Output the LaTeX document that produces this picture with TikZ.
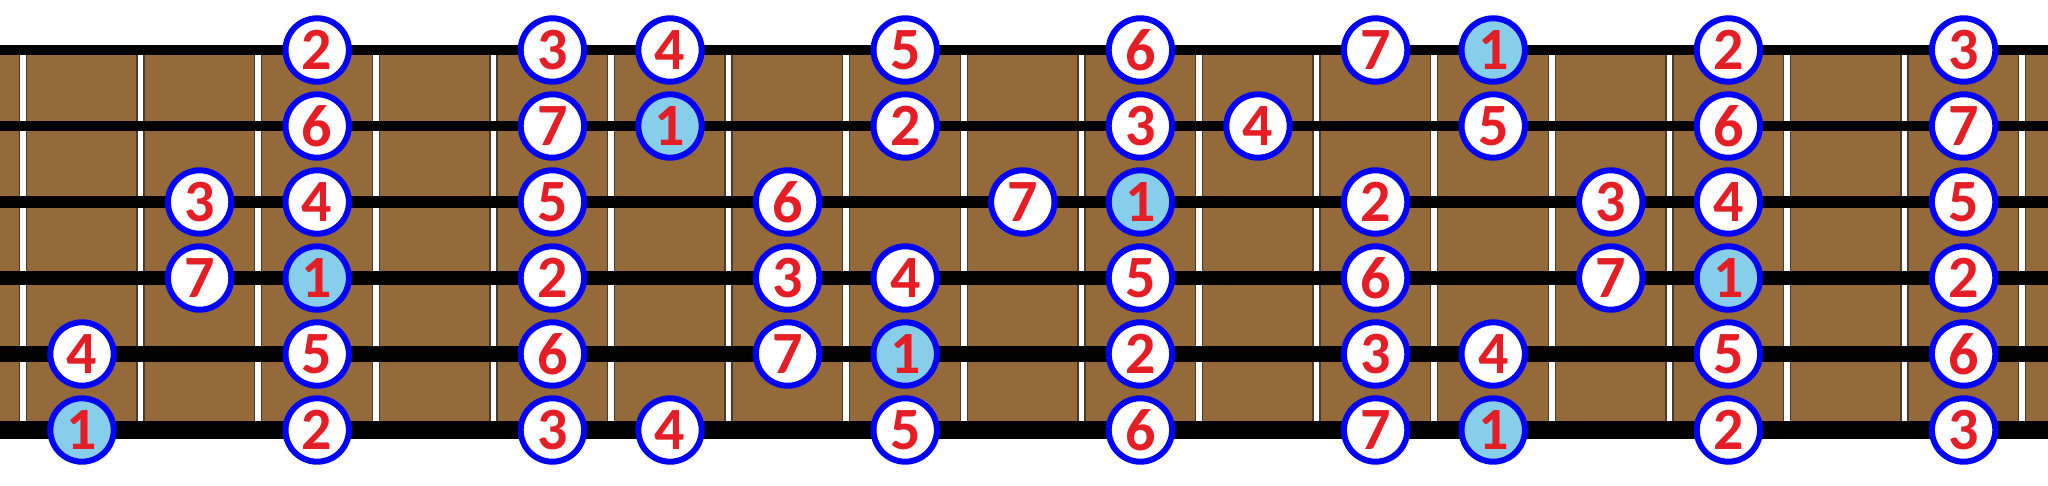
\documentclass[tikz,border=0pt]{standalone}
\usepackage{fontspec}
\setmainfont{Carlito}[BoldFont={Carlito Bold}]
\definecolor{wood}{RGB}{149,106,59}
\definecolor{noteblue}{RGB}{0,0,255}
\definecolor{rootfill}{RGB}{135,206,235}
\definecolor{notered}{RGB}{228,30,36}
\definecolor{fretedge}{RGB}{70,60,50}
\tikzset{
  note/.style={circle, draw=noteblue, line width=6pt, minimum size=63.4pt, inner sep=0pt,
    text=notered, font=\fontsize{60}{60}\selectfont\bfseries},
  fretbar/.style={fill=white, draw=fretedge, line width=1.5pt},
  stringline/.style={draw=black, line cap=butt}
}
\begin{document}
\begin{tikzpicture}[x=1pt,y=-1pt]
\useasboundingbox (0,0) rectangle (2048,485);
% fretboard
\fill[wood] (0,50) rectangle (2048,430);
% frets
\foreach \j in {0,...,17} {
  \pgfmathsetmacro{\fx}{23+117.6*\j}
  \draw[fretbar] (\fx-3.5,50) rectangle (\fx+3.5,430);
}
% strings
\foreach \s/\y/\w in {1/50/10,2/126/10,3/202/12.5,4/278/14,5/354/15.5,6/430/18} {
  \draw[stringline, line width=\w pt] (0,\y) -- (2048,\y);
}
% notes
\foreach \s/\y/\lst in {
  1/50/{2/2,4/3,5/4,7/5,9/6,11/7,12/1,14/2,16/3},
  2/126/{2/6,4/7,5/1,7/2,9/3,10/4,12/5,14/6,16/7},
  3/202/{1/3,2/4,4/5,6/6,8/7,9/1,11/2,13/3,14/4,16/5},
  4/278/{1/7,2/1,4/2,6/3,7/4,9/5,11/6,13/7,14/1,16/2},
  5/354/{0/4,2/5,4/6,6/7,7/1,9/2,11/3,12/4,14/5,16/6},
  6/430/{0/1,2/2,4/3,5/4,7/5,9/6,11/7,12/1,14/2,16/3}} {
  \foreach \k/\d in \lst {
    \pgfmathsetmacro{\nx}{82+117.6*\k}
    \ifnum\d=1 \def\nf{rootfill}\else\def\nf{white}\fi
    \node[note, fill=\nf] (n\s-\k) at (\nx,\y) {\d};
  }
}
\end{tikzpicture}
\end{document}
